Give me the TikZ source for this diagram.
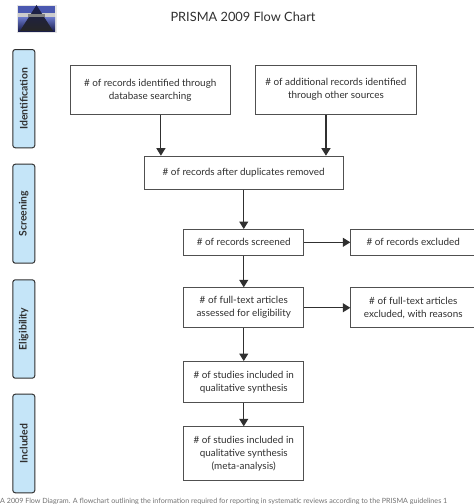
\documentclass[tikz,border=0pt]{standalone}
\usepackage{fontspec}
\setmainfont{Lato}
\usetikzlibrary{arrows.meta}
\definecolor{ink}{HTML}{303030}
\definecolor{edge}{HTML}{505050}
\definecolor{side}{HTML}{C5E5F8}
\definecolor{logoa}{HTML}{4A58B0}
\definecolor{logob}{HTML}{6A78C8}
\definecolor{logoc}{HTML}{1A1E50}
\tikzset{
  x=1pt,y=-1pt,
  boxnode/.style={draw=edge,line width=0.9pt,fill=white,text=ink,align=center,inner sep=0pt,font=\fontsize{9.9}{13}\selectfont,anchor=north west},
  sidenode/.style={draw=ink,line width=1pt,fill=side,rounded corners=2.5pt,inner sep=0pt,minimum width=22pt,anchor=north west},
  sidelabel/.style={rotate=90,text=ink,font=\bfseries\fontsize{10.4}{12}\selectfont},
  arr/.style={draw=ink,line width=1.1pt,-{Triangle[length=7.5pt,width=9pt]}}
}
\begin{document}
\begin{tikzpicture}
\useasboundingbox (0,0) rectangle (474,504);
\fill[white] (0,0) rectangle (474,504);
% logo
\fill[black!10] (16.5,4.5) rectangle (57,33);
\fill[logoa] (18,6) rectangle (55,13);
\fill[black!20] (18,13) rectangle (55,17.5);
\shade[top color=logob,bottom color=logoc] (18,17.5) rectangle (55,31);
\shade[top color=logoc,bottom color=black!85] (36.5,5) -- (20,31) -- (53,31) -- cycle;
\fill[black!50] (28,13.5) rectangle (45,17);
% title
\node[text=ink,font=\fontsize{12.8}{15}\selectfont] (title) at (243,17) {PRISMA 2009 Flow Chart};
% phases
\node[sidenode,minimum height=98.3pt] (p1) at (12.3,49) {};
\node[sidelabel] (l1) at (p1.center) {Identification};
\node[sidenode,minimum height=99pt] (p2) at (12.3,163.7) {};
\node[sidelabel] (l2) at (p2.center) {Screening};
\node[sidenode,minimum height=98.4pt] (p3) at (12.3,279.3) {};
\node[sidelabel] (l3) at (p3.center) {Eligibility};
\node[sidenode,minimum height=98.6pt] (p4) at (12.3,393.7) {};
\node[sidelabel] (l4) at (p4.center) {Included};
% boxes
\node[boxnode,minimum width=160.5pt,minimum height=49pt] (a) at (69.5,65) {\# of records identified through\\database searching};
\node[boxnode,minimum width=161pt,minimum height=49.5pt] (b) at (255,64.5) {\# of additional records identified\\through other sources};
\node[boxnode,minimum width=199pt,minimum height=33.6pt] (m) at (143.7,155.7) {\# of records after duplicates removed};
\node[boxnode,minimum width=120pt,minimum height=25.7pt] (s) at (183.3,229) {\# of records screened};
\node[boxnode,minimum width=125pt,minimum height=25.7pt] (x) at (350.3,229) {\# of records excluded};
\node[boxnode,minimum width=120pt,minimum height=40pt] (f) at (183.3,287.3) {\# of full-text articles\\assessed for eligibility};
\node[boxnode,minimum width=125pt,minimum height=40pt] (y) at (350.3,287.3) {\# of full-text articles\\excluded, with reasons};
\node[boxnode,minimum width=120pt,minimum height=41pt] (q) at (183.3,361) {\# of studies included in\\qualitative synthesis};
\node[boxnode,minimum width=120pt,minimum height=53.7pt] (r) at (183.3,426.3) {\# of studies included in\\qualitative synthesis\\(meta-analysis)};
% connectors
\draw[arr] ([xshift=10.7]a.south) -- ([xshift=10.7]a.south |- m.north);
\draw[arr] ([xshift=-10]b.south) -- ([xshift=-10]b.south |- m.north);
\draw[arr] (m.south -| s.north) -- (s.north);
\draw[arr] (s.south) -- (f.north);
\draw[arr] (f.south) -- (q.north);
\draw[arr] (q.south) -- (r.north);
\draw[arr] (s.east) -- (x.west);
\draw[arr] (f.east) -- (y.west);
% footer
\node[anchor=west,inner sep=0pt,text=black!55,font=\fontsize{7.15}{8}\selectfont] (foot) at (0,501.5) {A 2009 Flow Diagram. A flowchart outlining the information required for reporting in systematic reviews according to the PRISMA guidelines 1};
\end{tikzpicture}
\end{document}
